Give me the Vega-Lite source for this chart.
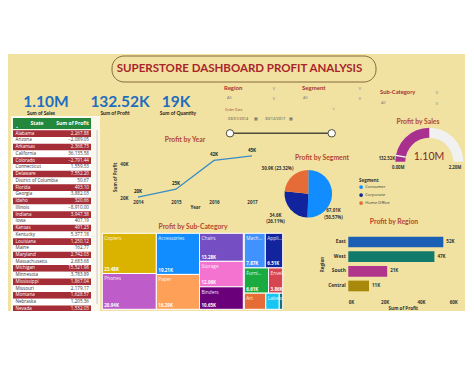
{
"$schema":"https://vega.github.io/schema/vega-lite/v6.json",
"width":457,"height":257,"autosize":"none",
"padding":{"left":8,"top":54,"right":9,"bottom":55},
"background":"#ffffff",
"config":{"view":{"fill":"#f1e2a1","stroke":null},"font":"Open Sans",
 "axis":{"domain":false,"ticks":false,"tickSize":0,"grid":false,"labelFontSize":4.5,"labelFontWeight":"bold","labelColor":"#333333","titleFontSize":4.5,"titleFontWeight":"bold","titleColor":"#333333","labelFont":"Open Sans","titleFont":"Open Sans"}},
"data":{"values":[{}]},
"resolve":{"scale":{"x":"independent","y":"independent","color":"independent","fill":"independent","theta":"independent"},"axis":{"x":"independent","y":"independent"},"legend":{"color":"independent"}},
"layer":[
 {"mark":{"type":"rect","x":104,"x2":368,"y":2,"y2":28,"cornerRadius":12,"fill":"#f1e2a1","stroke":"#86683c","strokeWidth":1}},
 {"data":{"values":[{"Title":"SUPERSTORE DASHBOARD PROFIT ANALYSIS"}]},"mark":{"type":"text","x":231.5,"y":15,"align":"center","baseline":"middle","font":"Lato","fontSize":11.5,"fontWeight":"bold","color":"#a8262b"},"encoding":{"text":{"field":"Title"}}},

 {"data":{"values":[{"Measure":"Sum of Sales","Value":1100000}]},"layer":[
  {"mark":{"type":"text","x":38,"y":47.5,"align":"center","baseline":"middle","font":"Lato","fontSize":15.5,"fontWeight":"bold","color":"#1f6dbf"},"encoding":{"text":{"field":"Value","format":".3s"}}},
  {"mark":{"type":"text","x":33,"y":58.5,"align":"center","baseline":"middle","font":"Lato","fontSize":5,"fontWeight":"bold","color":"#222222"},"encoding":{"text":{"field":"Measure"}}}]},
 {"data":{"values":[{"Measure":"Sum of Profit","Value":132520}]},"layer":[
  {"mark":{"type":"text","x":112,"y":47.5,"align":"center","baseline":"middle","font":"Lato","fontSize":15.5,"fontWeight":"bold","color":"#1f6dbf","text":{"expr":"format(datum.Value/1000,'.2f') + 'K'"}}},
  {"mark":{"type":"text","x":107,"y":58.5,"align":"center","baseline":"middle","font":"Lato","fontSize":5,"fontWeight":"bold","color":"#222222"},"encoding":{"text":{"field":"Measure"}}}]},
 {"data":{"values":[{"Measure":"Sum of Quantity","Value":19000}]},"layer":[
  {"mark":{"type":"text","x":168,"y":47.5,"align":"center","baseline":"middle","font":"Lato","fontSize":15.5,"fontWeight":"bold","color":"#1f6dbf","text":{"expr":"format(datum.Value/1000,'.0f') + 'K'"}}},
  {"mark":{"type":"text","x":170,"y":58.5,"align":"center","baseline":"middle","font":"Lato","fontSize":5,"fontWeight":"bold","color":"#222222"},"encoding":{"text":{"field":"Measure"}}}]},

 {"mark":{"type":"text","x":216,"y":33.7,"text":"Region","align":"left","baseline":"middle","font":"Lato","fontSize":6,"fontWeight":"bold","color":"#a83232"}},
 {"mark":{"type":"text","x":294,"y":33.7,"text":"Segment","align":"left","baseline":"middle","font":"Lato","fontSize":6,"fontWeight":"bold","color":"#a83232"}},
 {"mark":{"type":"text","x":372,"y":37.7,"text":"Sub-Category","align":"left","baseline":"middle","font":"Lato","fontSize":5.8,"fontWeight":"bold","color":"#a83232"}},
 {"mark":{"type":"text","x":219,"y":43.7,"text":"All","align":"left","baseline":"middle","fontSize":4,"color":"#777777"}},
 {"mark":{"type":"text","x":295,"y":43.7,"text":"All","align":"left","baseline":"middle","fontSize":4,"color":"#777777"}},
 {"mark":{"type":"text","x":373,"y":49.3,"text":"All","align":"left","baseline":"middle","fontSize":4,"color":"#777777"}},
 {"mark":{"type":"text","x":266,"y":34,"text":"∨","align":"center","baseline":"middle","fontSize":5,"color":"#999999"}},
 {"mark":{"type":"text","x":266,"y":44,"text":"∨","align":"center","baseline":"middle","fontSize":5,"color":"#999999"}},
 {"mark":{"type":"text","x":352,"y":34,"text":"∨","align":"center","baseline":"middle","fontSize":5,"color":"#999999"}},
 {"mark":{"type":"text","x":352,"y":44,"text":"∨","align":"center","baseline":"middle","fontSize":5,"color":"#999999"}},
 {"mark":{"type":"text","x":429,"y":37.7,"text":"∨","align":"center","baseline":"middle","fontSize":5,"color":"#999999"}},
 {"mark":{"type":"text","x":429,"y":49.3,"text":"∨","align":"center","baseline":"middle","fontSize":5,"color":"#999999"}},
 {"mark":{"type":"text","x":325,"y":55.3,"text":"∨","align":"center","baseline":"middle","fontSize":4,"color":"#999999"}},
 {"mark":{"type":"text","x":217,"y":56,"text":"Order Date","align":"left","baseline":"middle","fontSize":3.3,"color":"#a83232"}},
 {"mark":{"type":"text","x":220,"y":65.3,"text":"03/01/2014","align":"left","baseline":"middle","fontSize":3.8,"color":"#444444"}},
 {"mark":{"type":"text","x":247.7,"y":65.3,"text":"▦","align":"center","baseline":"middle","fontSize":4,"color":"#555555"}},
 {"mark":{"type":"text","x":257,"y":65.3,"text":"30/12/2017","align":"left","baseline":"middle","fontSize":3.8,"color":"#444444"}},
 {"mark":{"type":"text","x":283,"y":65.3,"text":"▦","align":"center","baseline":"middle","fontSize":4,"color":"#555555"}},

 {"data":{"values":[{"OrderDate":"2014-01-03"},{"OrderDate":"2017-12-30"}]},"layer":[
  {"mark":{"type":"rule","color":"#4d4b3d","strokeWidth":1.5},"encoding":{"x":{"aggregate":"min","field":"OrderDate","type":"temporal","scale":{"range":[222,323.7],"nice":false},"axis":null},"x2":{"aggregate":"max","field":"OrderDate"},"y":{"value":79.3}}},
  {"mark":{"type":"point","filled":true,"color":"#ffffff","stroke":"#4d4b3d","strokeWidth":1,"size":55,"opacity":1},"encoding":{"x":{"field":"OrderDate","type":"temporal"},"y":{"value":79.3}}}]},

 {"mark":{"type":"text","x":177,"y":85.7,"text":"Profit by Year","align":"center","baseline":"middle","font":"Lato","fontSize":6.8,"fontWeight":"bold","color":"#b5462f"}},
 {"mark":{"type":"text","x":314,"y":103.7,"text":"Profit by Segment","align":"center","baseline":"middle","font":"Lato","fontSize":6.8,"fontWeight":"bold","color":"#b5462f"}},
 {"mark":{"type":"text","x":410,"y":68.3,"text":"Profit by Sales","align":"center","baseline":"middle","font":"Lato","fontSize":6.8,"fontWeight":"bold","color":"#b5462f"}},
 {"mark":{"type":"text","x":185,"y":173.3,"text":"Profit by Sub-Category","align":"center","baseline":"middle","font":"Lato","fontSize":6.8,"fontWeight":"bold","color":"#b5462f"}},
 {"mark":{"type":"text","x":386,"y":168.3,"text":"Profit by Region","align":"center","baseline":"middle","font":"Lato","fontSize":6.8,"fontWeight":"bold","color":"#b5462f"}},

 {"data":{"values":[
  {"State":"Alabama","Profit":2267.88},{"State":"Arizona","Profit":-2089.05},{"State":"Arkansas","Profit":2368.73},{"State":"California","Profit":36135.58},{"State":"Colorado","Profit":-2791.44},{"State":"Connecticut","Profit":1559.53},{"State":"Delaware","Profit":7552.20},{"State":"District of Columbia","Profit":50.67},{"State":"Florida","Profit":493.10},{"State":"Georgia","Profit":3882.03},{"State":"Idaho","Profit":320.66},{"State":"Illinois","Profit":-8910.00},{"State":"Indiana","Profit":3947.38},{"State":"Iowa","Profit":407.19},{"State":"Kansas","Profit":491.23},{"State":"Kentucky","Profit":5377.18},{"State":"Louisiana","Profit":1250.12},{"State":"Maine","Profit":162.77},{"State":"Maryland","Profit":2742.03},{"State":"Massachusetts","Profit":2683.68},{"State":"Michigan","Profit":15521.98},{"State":"Minnesota","Profit":3783.89},{"State":"Mississippi","Profit":1867.04},{"State":"Missouri","Profit":2179.17},{"State":"Montana","Profit":1628.57},{"State":"Nebraska","Profit":1205.36},{"State":"Nevada","Profit":1532.03}]},
  "resolve":{"scale":{"fill":"independent"}},
  "layer":[
   {"data":{"values":[{}]},"mark":{"type":"rect","x":3,"x2":92,"y":62,"y2":257,"fill":"#fbf8ee"}},
   {"data":{"values":[{}]},"mark":{"type":"rect","x":5,"x2":83,"y":64,"y2":75,"fill":"#23883c"}},
   {"data":{"values":[{}]},"mark":{"type":"rect","x":88.4,"x2":89.8,"y":76,"y2":250,"fill":"#d6d6d6"}},
   {"data":{"values":[{}]},"mark":{"type":"text","x":29,"y":68.5,"text":"State","align":"center","baseline":"middle","fontSize":5,"fontWeight":"bold","color":"#ffffff"}},
   {"data":{"values":[{}]},"mark":{"type":"text","x":81,"y":68.5,"text":"Sum of Profit","align":"right","baseline":"middle","fontSize":5,"fontWeight":"bold","color":"#ffffff"}},
   {"data":{"values":[{}]},"mark":{"type":"text","x":9,"y":73,"text":"▲","align":"center","baseline":"middle","fontSize":2.5,"color":"#ffffff"}},
   {"mark":{"type":"rect","x":5,"x2":83,"clip":true},"encoding":{"y":{"field":"State","type":"nominal","sort":null,"scale":{"type":"band","range":[76.3,258.3],"paddingInner":0,"paddingOuter":0},"axis":null},"fill":{"field":"State","type":"nominal","sort":null,"scale":{"range":["#a52d37","#ffffff"]},"legend":null}}},
   {"mark":{"type":"text","x":7.5,"align":"left","baseline":"middle","fontSize":4.6,"clip":true},"encoding":{"y":{"field":"State","type":"nominal","sort":null},"text":{"field":"State"},"fill":{"field":"State","type":"nominal","sort":null,"scale":{"range":["#ffffff","#333333"]},"legend":null}}},
   {"mark":{"type":"text","x":81,"align":"right","baseline":"middle","fontSize":4.6,"clip":true},"encoding":{"y":{"field":"State","type":"nominal","sort":null},"text":{"field":"Profit","format":",.2f"},"fill":{"field":"State","type":"nominal","sort":null,"scale":{"range":["#ffffff","#333333"]},"legend":null}}}]},

 {"data":{"values":[{"Year":"2014","Profit":20.46},{"Year":"2015","Profit":25.2},{"Year":"2016","Profit":42.1},{"Year":"2017","Profit":44.76}]},
  "encoding":{"x":{"field":"Year","type":"ordinal","scale":{"type":"point","range":[130,244],"padding":0},"axis":{"orient":"bottom","offset":-112.8,"title":"Year","titlePadding":1,"labelPadding":1,"labelAngle":0}},
   "y":{"field":"Profit","type":"quantitative","scale":{"domain":[19,46],"range":[145.7,99.8],"nice":false,"zero":false},"axis":{"orient":"left","offset":-122,"values":[20,40],"labelExpr":"datum.value + 'K'","title":"Sum of Profit","titlePadding":2,"labelPadding":2}}},
  "layer":[
   {"mark":{"type":"line","color":"#3a8dc4","strokeWidth":1.3}},
   {"mark":{"type":"text","dy":-5,"fontSize":4.5,"fontWeight":"bold","color":"#222222","text":{"expr":"format(datum.Profit,'.0f') + 'K'"}}}]},

 {"data":{"values":[{"Segment":"Consumer","Profit":67.01},{"Segment":"Corporate","Profit":34.6},{"Segment":"Home Office","Profit":30.9}]},
  "transform":[{"joinaggregate":[{"op":"sum","field":"Profit","as":"Total"}]}],
  "layer":[
   {"mark":{"type":"arc","x":300.3,"y":139.7,"outerRadius":23.8},"encoding":{"theta":{"field":"Profit","type":"quantitative","stack":true},"color":{"field":"Segment","type":"nominal","scale":{"domain":["Consumer","Corporate","Home Office"],"range":["#118DFF","#12239E","#E66C37"]},"legend":{"orient":"none","legendX":351,"legendY":124,"title":"Segment","titleFontSize":4.5,"titleFontWeight":"bold","titleColor":"#333333","titlePadding":2.5,"labelFontSize":4.2,"labelColor":"#333333","labelOffset":2,"symbolType":"circle","symbolSize":14,"symbolStrokeWidth":0,"rowPadding":3,"padding":0}}}},
   {"transform":[{"filter":"datum.Segment == 'Home Office'"}],"mark":{"type":"text","x":300.3,"y":139.7,"dx":-30.8,"dy":-24.7,"align":"center","baseline":"middle","fontSize":4.5,"fontWeight":"bold","color":"#333333","text":{"expr":"format(datum.Profit,'.2~f') + 'K (' + format(datum.Profit/datum.Total,'.2%') + ')'"}}},
   {"transform":[{"filter":"datum.Segment == 'Corporate'"}],"mark":{"type":"text","x":300.3,"y":139.7,"dx":-32.8,"dy":22,"align":"center","baseline":"middle","fontSize":4.5,"fontWeight":"bold","color":"#333333","text":{"expr":"[format(datum.Profit,'.2~f') + 'K', '(' + format(datum.Profit/datum.Total,'.2%') + ')']"}}},
   {"transform":[{"filter":"datum.Segment == 'Consumer'"}],"mark":{"type":"text","x":300.3,"y":139.7,"dx":25.2,"dy":17.5,"align":"center","baseline":"middle","fontSize":4.5,"fontWeight":"bold","color":"#333333","text":{"expr":"[format(datum.Profit,'.2~f') + 'K', '(' + format(datum.Profit/datum.Total,'.2%') + ')']"}}}]},

 {"data":{"values":[{"Measure":"Sum of Sales","Value":1.1,"Min":0,"Max":2.2,"Target":0.13252}]},
  "encoding":{"theta":{"field":"Min","type":"quantitative","scale":{"domain":[0,2.2],"range":[-1.5708,1.5708]},"stack":null}},
  "layer":[
   {"mark":{"type":"arc","x":421.3,"y":107.7,"outerRadius":34,"innerRadius":24,"color":"#f1f1f1"},"encoding":{"theta2":{"field":"Max"}}},
   {"mark":{"type":"arc","x":421.3,"y":107.7,"outerRadius":34,"innerRadius":24,"color":"#a8308f"},"encoding":{"theta2":{"field":"Value"}}},
   {"mark":{"type":"arc","x":421.3,"y":107.7,"outerRadius":34,"innerRadius":24,"filled":false,"color":"#ffffff","strokeWidth":1.3},"encoding":{"theta":{"field":"Target","type":"quantitative","stack":null},"theta2":{"field":"Target"}}},
   {"mark":{"type":"text","x":421,"y":102.7,"align":"center","baseline":"middle","font":"Lato","fontSize":10.5,"color":"#7b2a26","text":{"expr":"format(datum.Value,'.2f') + 'M'"}}},
   {"mark":{"type":"text","x":390.3,"y":114.3,"align":"center","baseline":"middle","fontSize":4.3,"fontWeight":"bold","color":"#333333","text":{"expr":"format(datum.Min,'.2f') + 'M'"}}},
   {"mark":{"type":"text","x":447,"y":114.3,"align":"center","baseline":"middle","fontSize":4.3,"fontWeight":"bold","color":"#333333","text":{"expr":"format(datum.Max,'.2f') + 'M'"}}},
   {"mark":{"type":"text","x":387,"y":105.3,"align":"right","baseline":"middle","fontSize":4.3,"fontWeight":"bold","color":"#333333","text":{"expr":"format(datum.Target*1000,'.2f') + 'K'"}}}]},

 {"data":{"values":[{"SubCategory":"Copiers","Profit":23.48,"Column":1},{"SubCategory":"Phones","Profit":20.94,"Column":1},{"SubCategory":"Accessories","Profit":19.21,"Column":2},{"SubCategory":"Paper","Profit":16.29,"Column":2},{"SubCategory":"Chairs","Profit":13.28,"Column":3},{"SubCategory":"Storage","Profit":12.06,"Column":3},{"SubCategory":"Binders","Profit":10.65,"Column":3}]},
  "transform":[
   {"stack":"Profit","groupby":[],"sort":[{"field":"Column"}],"as":["c0","c1"]},
   {"joinaggregate":[{"op":"min","field":"c0","as":"x0"},{"op":"max","field":"c1","as":"x1"}],"groupby":["Column"]},
   {"stack":"Profit","groupby":["Column"],"offset":"normalize","sort":[{"field":"Profit","order":"descending"}],"as":["y0","y1"]}],
  "encoding":{"x":{"field":"x0","type":"quantitative","scale":{"range":[94.3,235.3],"nice":false,"zero":true},"axis":null},
   "y":{"field":"y0","type":"quantitative","scale":{"domain":[0,1],"range":[179.3,255.3],"nice":false},"axis":null}},
  "layer":[
   {"mark":{"type":"rect","stroke":"#ffffff","strokeWidth":1},"encoding":{"x2":{"field":"x1"},"y2":{"field":"y1"},"color":{"field":"SubCategory","type":"nominal","scale":{"domain":["Copiers","Phones","Accessories","Paper","Chairs","Storage","Binders"],"range":["#D9B300","#BE5DC9","#118DFF","#FFA058","#744EC2","#F472D0","#6B007B"]},"legend":null}}},
   {"mark":{"type":"text","align":"left","baseline":"top","dx":2,"dy":3,"fontSize":4.8,"color":"#ffffff","opacity":0.9},"encoding":{"text":{"field":"SubCategory"}}},
   {"mark":{"type":"text","align":"left","baseline":"bottom","dx":2,"dy":-1.5,"fontSize":4.5,"fontWeight":"bold","color":"#ffffff","text":{"expr":"format(datum.Profit,'.2f') + 'K'"}},"encoding":{"y":{"field":"y1","type":"quantitative"}}}]},

 {"data":{"values":[{"SubCategory":"Machines","Profit":7.87,"Row":1},{"SubCategory":"Appliances","Profit":6.51,"Row":1},{"SubCategory":"Furnishings","Profit":6.61,"Row":2},{"SubCategory":"Envelopes","Profit":3.86,"Row":2},{"SubCategory":"Art","Profit":3.75,"Row":3},{"SubCategory":"Labels","Profit":2.35,"Row":3},{"SubCategory":"Fasteners","Profit":0.6,"Row":3}]},
  "transform":[
   {"stack":"Profit","groupby":[],"sort":[{"field":"Row"}],"as":["r0","r1"]},
   {"joinaggregate":[{"op":"min","field":"r0","as":"ya"},{"op":"max","field":"r1","as":"yb"}],"groupby":["Row"]},
   {"stack":"Profit","groupby":["Row"],"offset":"normalize","sort":[{"field":"Profit","order":"descending"}],"as":["h0","h1"]}],
  "encoding":{"x":{"field":"h0","type":"quantitative","scale":{"domain":[0,1],"range":[236.3,274.7],"nice":false},"axis":null},
   "y":{"field":"ya","type":"quantitative","scale":{"range":[179.3,255.3],"nice":false,"zero":true},"axis":null}},
  "layer":[
   {"mark":{"type":"rect","stroke":"#ffffff","strokeWidth":1},"encoding":{"x2":{"field":"h1"},"y2":{"field":"yb"},"color":{"field":"SubCategory","type":"nominal","scale":{"domain":["Machines","Appliances","Furnishings","Envelopes","Art","Labels","Fasteners"],"range":["#4092FF","#12239E","#1AAB40","#D64550","#E66C37","#15C6F4","#197278"]},"legend":null}}},
   {"mark":{"type":"text","align":"left","baseline":"top","dx":2,"dy":3,"fontSize":4.8,"color":"#ffffff","opacity":0.9,"limit":17,"text":{"expr":"datum.Profit > 1 ? datum.SubCategory : ''"}}},
   {"mark":{"type":"text","align":"left","baseline":"bottom","dx":2,"dy":-1.5,"fontSize":4.5,"fontWeight":"bold","color":"#ffffff","text":{"expr":"datum.Row < 3 ? format(datum.Profit,'.2f') + 'K' : ''"}},"encoding":{"y":{"field":"yb","type":"quantitative"}}}]},

 {"data":{"values":[{"Region":"East","Profit":52.3},{"Region":"West","Profit":47.4},{"Region":"South","Profit":21.4},{"Region":"Central","Profit":11.4}]},
  "encoding":{"y":{"field":"Region","type":"nominal","sort":null,"scale":{"type":"band","range":[180.7,239.3],"paddingInner":0.27,"paddingOuter":0.135},"axis":{"orient":"left","offset":-340.3,"title":"Region","labelPadding":3,"titlePadding":3,"labelFontSize":4.8}},
   "x":{"field":"Profit","type":"quantitative","scale":{"domain":[0,60],"range":[340.3,449.3],"nice":false},"axis":{"orient":"bottom","offset":-12.2,"values":[0,20,40,60],"labelExpr":"datum.value + 'K'","title":"Sum of Profit","labelPadding":1,"titlePadding":1}}},
  "layer":[
   {"mark":{"type":"bar"},"encoding":{"color":{"field":"Region","type":"nominal","scale":{"domain":["East","West","South","Central"],"range":["#1a5fb4","#117a6b","#b0368c","#a8890c"]},"legend":null}}},
   {"mark":{"type":"text","align":"left","baseline":"middle","dx":3,"fontSize":4.5,"fontWeight":"bold","color":"#333333","text":{"expr":"format(datum.Profit,'.0f') + 'K'"}}}]}
]
}
